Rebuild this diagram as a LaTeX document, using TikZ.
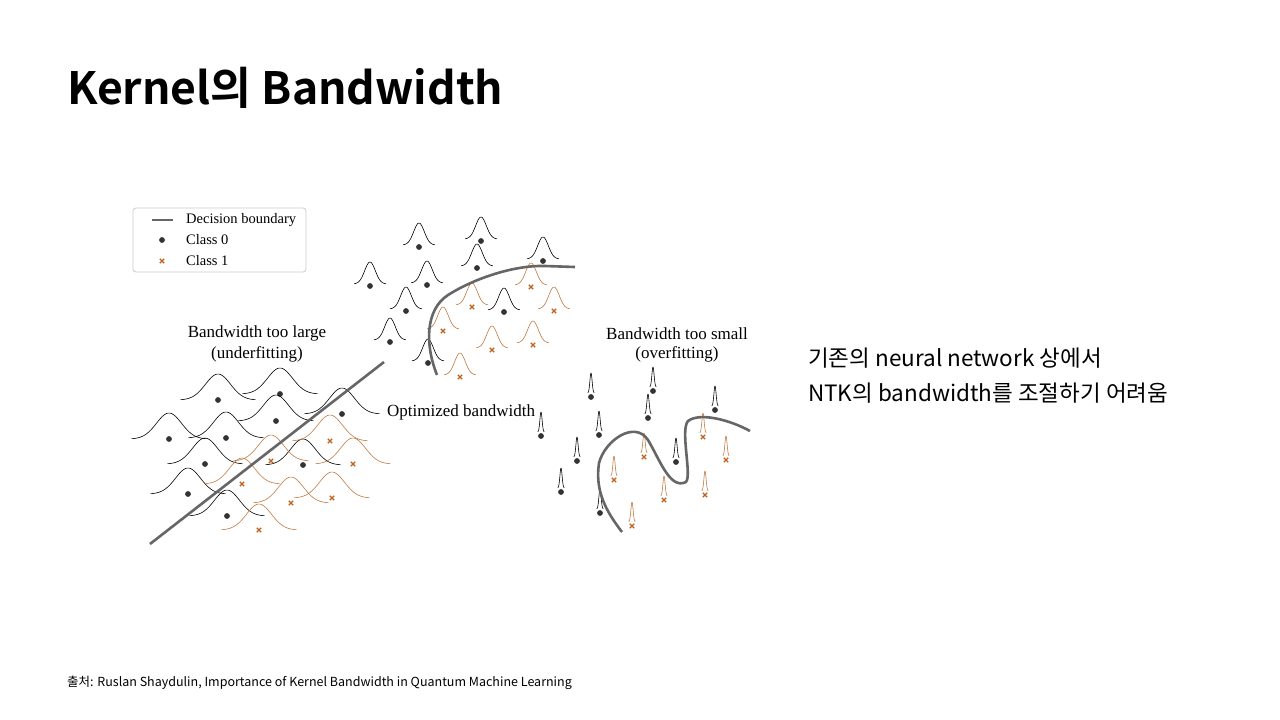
\documentclass[tikz,border=0pt]{standalone}
\usepackage{fontspec}
\setmainfont{Noto Sans CJK KR}[BoldFont={Noto Sans CJK KR Bold}]
\newfontfamily\serifp{Liberation Serif}
\definecolor{dotc}{HTML}{333333}
\definecolor{orc}{HTML}{C0601A}
\definecolor{orl}{HTML}{C07A40}
\definecolor{bnd}{HTML}{666666}
\newcommand\gbump[5]{\draw[#5,line width=0.6pt] plot[domain=-3:3,samples=40,smooth] ({#1+\x*#3},{#2-#4*exp(-\x*\x/2)});}
\newcommand\cz[2]{\fill[dotc] (#1,#2) circle (2.9);}
\newcommand\co[2]{\draw[orc,line width=1.2pt] (#1-2.2,#2-2.2)--(#1+2.2,#2+2.2) (#1-2.2,#2+2.2)--(#1+2.2,#2-2.2);}
\begin{document}
\begin{tikzpicture}[x=1pt,y=-1pt,lab/.style={font=\serifp\fontsize{17}{19}\selectfont,inner sep=0}]
\useasboundingbox (0,0) rectangle (1280,720);
\node[anchor=base west,font=\bfseries\fontsize{44.5}{50}\selectfont,inner sep=0] (title) at (67,104) {Kernel의 Bandwidth};
% left panel
\foreach \a/\b in {218/400,280/394,276/421,342/414,169/439,226/438,205/464,303/465,188/494,227/516}{\gbump{\a}{\b}{12.5}{26}{black}\cz{\a}{\b}}
\foreach \a/\b in {330/441,271/461,353/464,242/484,291/503,332/498,259/530}{\gbump{\a}{\b}{12.5}{26}{orl}\co{\a}{\b}}
\draw[bnd,line width=2.6pt] (150,544)--(384,362);
% middle panel
\foreach \a/\b in {419/247,481/241,477/268,543/261,370/286,427/285,406/311,504/312,390/342,428/363}{\gbump{\a}{\b-2}{5.3}{22}{black}\cz{\a}{\b}}
\foreach \a/\b in {531/287,472/307,554/311,443/331,492/350,533/345,460/377}{\gbump{\a}{\b-2}{5.3}{22}{orl}\co{\a}{\b}}
\draw[bnd,line width=2.6pt] (437,375) .. controls (425,345) and (425,310) .. (448,295) .. controls (480,275) and (520,265) .. (545,266) -- (575,267);
% right panel
\foreach \a/\b in {591/397,653/391,648/418,715/410,541/436,599/435,577/461,676/462,561/492,600/513}{\gbump{\a}{\b-4}{1.1}{20}{black}\cz{\a}{\b}}
\foreach \a/\b in {703/437,726/460,644/457,614/480,664/500,705/495,632/526}{\gbump{\a}{\b-4}{1.1}{20}{orl}\co{\a}{\b}}
\draw[bnd,line width=2.6pt] (622,532) .. controls (605,510) and (595,490) .. (599,463) .. controls (605,440) and (635,420) .. (648,440) .. controls (660,460) and (670,490) .. (686,482) .. controls (692,475) and (680,430) .. (688,421) .. controls (700,412) and (730,420) .. (750,431);
% labels
\node[lab] (l1) at (257,333) {Bandwidth too large};
\node[lab] (l2) at (257,354) {(underfitting)};
\node[lab,anchor=base west] (l3) at (387,416) {Optimized bandwidth};
\node[lab] (l4) at (677,334) {Bandwidth too small};
\node[lab] (l5) at (677,354) {(overfitting)};
% legend
\draw[black!20,line width=0.8pt,rounded corners=3pt,fill=white] (133,208) rectangle (306,272);
\draw[bnd,line width=2.6pt] (152,220)--(173,220);
\cz{162}{240}
\co{162}{261}
\node[lab,anchor=west,font=\serifp\fontsize{14.5}{16}\selectfont] (g1) at (186,220) {Decision boundary};
\node[lab,anchor=west,font=\serifp\fontsize{14.5}{16}\selectfont] (g2) at (186,240) {Class 0};
\node[lab,anchor=west,font=\serifp\fontsize{14.5}{16}\selectfont] (g3) at (186,261) {Class 1};
% right text
\node[anchor=base west,inner sep=0,font=\fontsize{22.5}{26}\selectfont] (t1) at (808,366) {기존의 neural network 상에서};
\node[anchor=base west,inner sep=0,font=\fontsize{22.5}{26}\selectfont] (t2) at (808,401) {NTK의 bandwidth를 조절하기 어려움};
\node[anchor=base west,inner sep=0,font=\fontsize{12.5}{14}\selectfont] (fn) at (67,686) {출처: Ruslan Shaydulin, Importance of Kernel Bandwidth in Quantum Machine Learning};
\end{tikzpicture}
\end{document}
